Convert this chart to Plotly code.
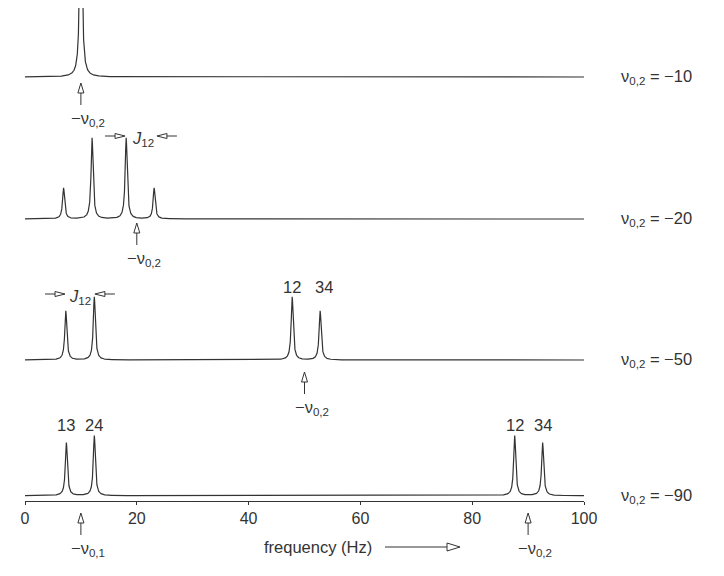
import numpy as np
import plotly.graph_objects as go

# x axis (Hz)
freq_ticks = [0, 20, 40, 60, 80, 100]

# chemical shift of nucleus 2 for each trace (top to bottom)
nu02_values = [-10, -20, -50, -90]

# line positions (Hz) and heights for each trace
peaks_10 = [10.0]
heights_10 = [220]
peaks_20 = [6.9, 12.0, 18.1, 23.1]
heights_20 = [31, 81, 81, 31]
peaks_50 = [7.3, 12.4, 47.8, 52.8]
heights_50 = [49, 63, 63, 49]
peaks_90 = [7.4, 12.4, 87.6, 92.6]
heights_90 = [53, 60, 60, 53]

# labels over the lines
labels_50 = ["12", "34"]
labels_90 = ["13", "24", "12", "34"]

# -nu arrows: position (Hz) and text
arrow_hz = [10, 20, 50, 10, 90]
arrow_text = ["−ν<sub>0,2</sub>", "−ν<sub>0,2</sub>", "−ν<sub>0,2</sub>",
              "−ν<sub>0,1</sub>", "−ν<sub>0,2</sub>"]

# the page body adds an 8 px margin, so the figure is drawn 8 px smaller
# plot area: 493 px tall, y units are px above the axis line
PLOT_H = 493
PX_PER_HZ = 5.59
baselines = [424, 282, 141, 5.3]
arrow_tip_y = [418, 278, 129, -12, -12]

INK = "#333333"
FAMILY = "Liberation Sans, Arial, sans-serif"
FONT = dict(family=FAMILY, size=16.5, color=INK)
TICK_FONT = dict(family=FAMILY, size=16, color=INK)

gamma = 0.22
x = np.linspace(0, 100, 10001)


def spectrum(peaks, heights, base):
    y = np.full_like(x, base)
    for p, h in zip(peaks, heights):
        y += h * gamma ** 2 / ((x - p) ** 2 + gamma ** 2)
    return y


def note(hz, yv, text, xanchor="center", xshift=0):
    # paper refs so labels outside the plot area are still drawn
    return dict(
        x=hz / 100, y=yv / PLOT_H, xref="paper", yref="paper",
        text=text, showarrow=False, xanchor=xanchor, yanchor="middle",
        xshift=xshift, font=FONT,
    )


fig = go.Figure()

all_peaks = [(peaks_10, heights_10), (peaks_20, heights_20),
             (peaks_50, heights_50), (peaks_90, heights_90)]
for (pk, ht), base in zip(all_peaks, baselines):
    fig.add_trace(go.Scatter(
        x=x, y=spectrum(pk, ht, base), mode="lines",
        line=dict(color=INK, width=1.2), hoverinfo="skip",
    ))

annotations = []
shapes = []

# right-hand labels
for nu, base in zip(nu02_values, baselines):
    annotations.append(note((619 - 25) / PX_PER_HZ, base,
                            "ν<sub>0,2</sub> = −%d" % abs(nu), xanchor="left"))


def head_up(hz, y_tip, length=22):
    return dict(
        type="path", xref="paper", yref="paper",
        xsizemode="pixel", ysizemode="pixel",
        xanchor=hz / 100, yanchor=y_tip / PLOT_H,
        path="M0,0 L-3,-10 L3,-10 Z M0,-10 L0,-%d" % length,
        line=dict(color=INK, width=1), fillcolor="white",
    )


def head_side(hz, y_tip, direction, length=20, half=2.5, head=10):
    d = direction
    return dict(
        type="path", xref="paper", yref="paper",
        xsizemode="pixel", ysizemode="pixel",
        xanchor=hz / 100, yanchor=y_tip / PLOT_H,
        path="M0,0 L%g,%g L%g,%g Z M%g,0 L%g,0" % (
            -d * head, half, -d * head, -half, -d * head, -d * length),
        line=dict(color=INK, width=1), fillcolor="white",
    )


# -nu arrows with labels
for hz, yt, txt in zip(arrow_hz, arrow_tip_y, arrow_text):
    shapes.append(head_up(hz, yt))
    annotations.append(note(hz - 12 / PX_PER_HZ, yt - 36, txt, xanchor="left"))

# J12 markers
j_marks = [(17.9, 23.6, 21.1, 365), (7.16, 12.5, 9.8, 207)]
for left_tip, right_tip, mid, yj in j_marks:
    shapes.append(head_side(left_tip, yj, 1))
    shapes.append(head_side(right_tip, yj, -1))
    annotations.append(note(mid, yj - 3, "<i>J</i><sub>12</sub>"))

# line labels
for lab, p, dx in zip(labels_50, peaks_50[2:], [0, 4]):
    annotations.append(note(p, 214, lab, xshift=dx))
for lab, p in zip(labels_90, peaks_90):
    annotations.append(note(p, 76, lab))

# axis title with long arrow
annotations.append(note((318 - 25) / PX_PER_HZ, -46, "frequency (Hz)"))
shapes.append(head_side((460 - 25) / PX_PER_HZ, -46, 1, length=75, half=4, head=13))

fig.update_layout(
    width=716, height=568,
    margin=dict(l=17, r=140, t=0, b=75),
    paper_bgcolor="white", plot_bgcolor="white",
    showlegend=False,
    font=FONT,
    xaxis=dict(
        range=[0, 100], tickvals=freq_ticks, ticks="outside", ticklen=3,
        tickcolor=INK, showline=True, linecolor=INK, linewidth=1,
        showgrid=False, zeroline=False, tickfont=TICK_FONT, fixedrange=True,
    ),
    yaxis=dict(range=[0, PLOT_H], visible=False, fixedrange=True),
    annotations=annotations,
    shapes=shapes,
)

fig.write_html("out.html")
